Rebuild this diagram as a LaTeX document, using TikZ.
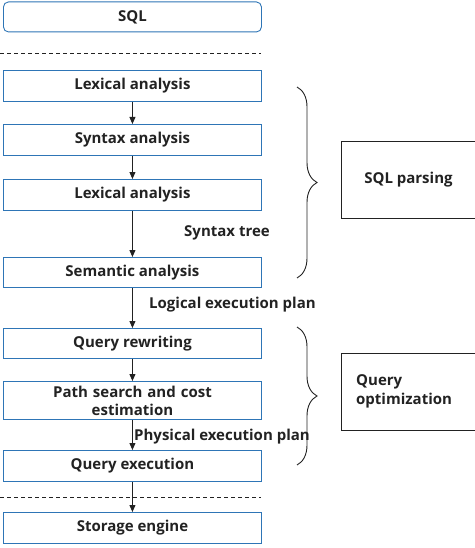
\documentclass[tikz,border=0pt]{standalone}
\usepackage{fontspec}
\setmainfont{Open Sans}
\usetikzlibrary{decorations.pathreplacing,arrows.meta}
\definecolor{boxblue}{HTML}{2E75B6}
\definecolor{ink}{HTML}{222222}
\begin{document}
\begin{tikzpicture}[x=1pt,y=-1pt,
  font=\fontsize{15}{19}\selectfont\bfseries,
  stepbox/.style={draw=boxblue,line width=0.9pt,minimum width=258pt,anchor=north west,inner sep=0pt,align=center,text=ink},
  sidebox/.style={draw=ink,line width=0.9pt,minimum width=134pt,anchor=north west,inner sep=0pt,text=ink},
  flow/.style={-{Triangle[length=7pt,width=6pt]},draw=ink,line width=0.9pt},
  sep/.style={dashed,draw=ink,line width=0.9pt,dash pattern=on 4pt off 3pt},
  bracket/.style={decorate,decoration={brace,amplitude=20pt},draw=ink,line width=0.9pt},
  lbl/.style={text=ink,inner sep=0pt}]
\useasboundingbox (0,0) rectangle (474,548);
\node[stepbox,rounded corners=5pt,minimum height=30pt] (sql) at (3,1.5) {SQL};
\coordinate (d1a) at (0,53); \coordinate (d1b) at (261,53);
\draw[sep] (d1a) -- (d1b);
\node[stepbox,minimum height=31pt] (lex1) at (3,70) {Lexical analysis};
\node[stepbox,minimum height=31pt] (syn) at (3,124) {Syntax analysis};
\node[stepbox,minimum height=31pt] (lex2) at (3,179) {Lexical analysis};
\node[stepbox,minimum height=30pt] (sem) at (3,257) {Semantic analysis};
\node[stepbox,minimum height=30pt] (qr) at (3,328) {Query rewriting};
\node[stepbox,minimum height=38pt,text width=250pt] (ps) at (3,381) {Path search and cost\\[-1pt]estimation};
\node[stepbox,minimum height=31pt] (qe) at (3,450) {Query execution};
\coordinate (d2a) at (0,497); \coordinate (d2b) at (261,497);
\draw[sep] (d2a) -- (d2b);
\node[stepbox,minimum height=31pt] (se) at (3,512) {Storage engine};
\draw[flow] (lex1) -- (syn);
\draw[flow] (syn) -- (lex2);
\draw[flow] (lex2) -- (sem);
\draw[flow] (sem) -- (qr);
\draw[flow] (qr) -- (ps);
\draw[flow] (ps) -- (qe);
\draw[flow] (qe) -- (se);
\node[lbl] (t1) at (227,233) {Syntax tree};
\node[lbl,anchor=west] (t2) at (149,305) {Logical execution plan};
\node[lbl,anchor=west] (t3) at (134,437) {Physical execution plan};
\coordinate (b1a) at (297,87); \coordinate (b1b) at (297,278);
\draw[bracket] (b1a) -- (b1b);
\coordinate (b2a) at (297,327); \coordinate (b2b) at (297,465);
\draw[bracket] (b2a) -- (b2b);
\node[sidebox,minimum height=77pt] (p1) at (341,141) {SQL parsing};
\node[sidebox,minimum height=77pt] (p2) at (341,353) {};
\node[lbl,anchor=west,align=left] (p2t) at (356,391.5) {Query\\optimization};
\end{tikzpicture}
\end{document}
